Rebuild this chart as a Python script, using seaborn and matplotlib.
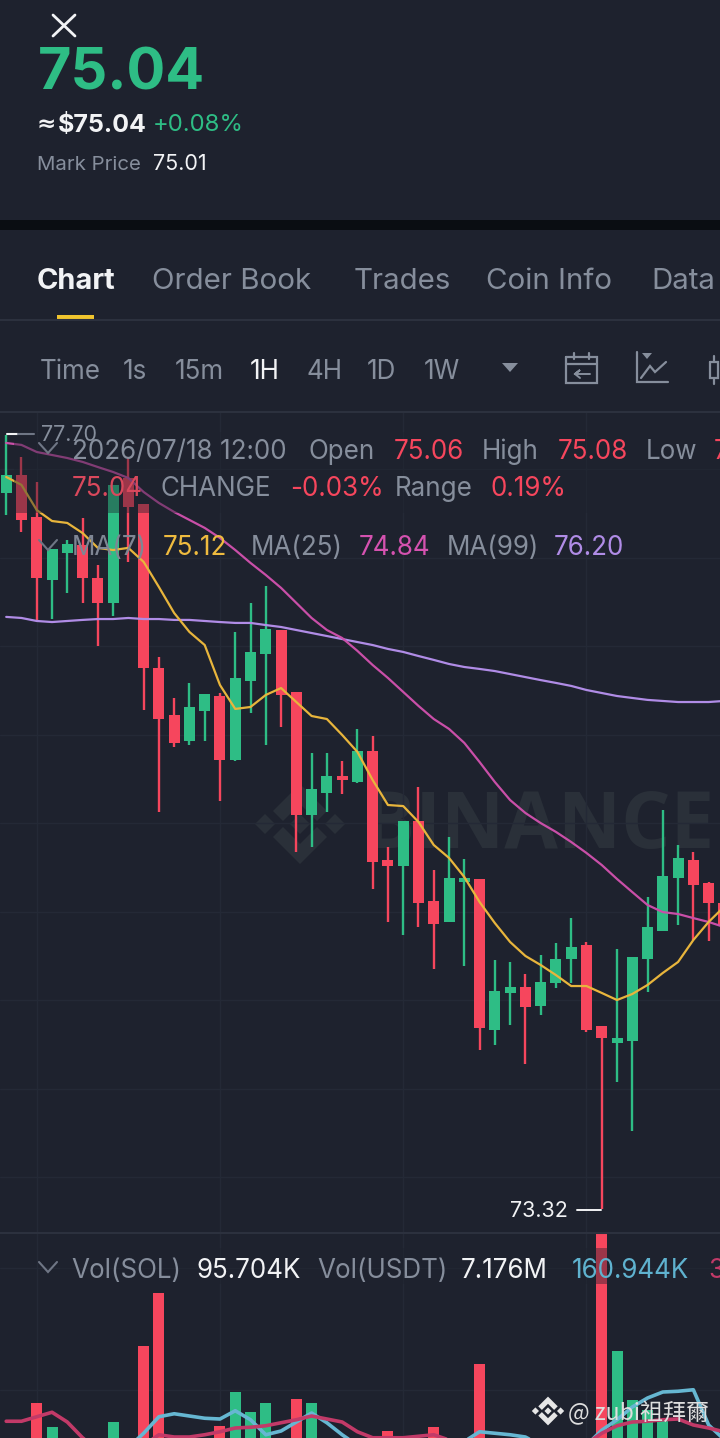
import numpy as np
import pandas as pd
import matplotlib
matplotlib.use("Agg")
import matplotlib.pyplot as plt
from matplotlib.patches import Polygon, Rectangle
import seaborn as sns

# ---------- data ----------
opens = [77.367,77.468,77.231,76.875,77.027,77.073,76.886,76.745,77.451,77.304,76.377,76.112,75.965,76.134,76.219,75.857,
         76.304,76.457,76.592,76.242,75.547,75.671,75.767,75.733,75.908,75.292,75.258,75.513,75.060,74.942,75.168,75.185,
         74.331,74.541,74.574,74.467,74.597,74.733,74.812,74.354,74.258,74.269,74.733,74.891,75.190,75.292,75.162,75.049]
highs = [77.694,77.570,77.429,77.050,77.101,77.225,76.960,77.412,77.564,77.304,76.440,76.208,76.293,76.230,76.236,76.581,
         76.745,76.841,76.592,76.242,75.897,75.897,75.852,76.033,75.993,75.366,75.513,75.705,75.236,75.422,75.298,75.185,
         74.727,74.716,74.648,74.755,74.823,74.964,74.829,74.354,74.789,74.744,75.083,75.575,75.377,75.337,75.168,75.049]
lows = [77.242,77.146,76.649,76.654,76.801,76.745,76.502,76.671,76.977,76.140,75.564,75.931,75.942,75.965,75.626,75.852,
        76.123,75.942,76.044,75.337,75.366,75.564,75.665,75.727,75.128,74.942,74.868,74.914,74.676,74.942,74.693,74.218,
        74.247,74.360,74.139,74.416,74.569,74.597,74.320,73.320,74.037,73.761,74.546,74.891,74.925,74.840,74.834,74.840]
closes = [77.468,77.214,76.886,77.050,77.078,76.886,76.745,77.412,77.287,76.377,76.089,75.954,76.157,76.230,75.857,76.321,
          76.468,76.598,76.225,75.547,75.694,75.767,75.744,75.908,75.281,75.258,75.513,75.049,74.931,75.190,75.190,74.343,
          74.552,74.574,74.461,74.603,74.733,74.800,74.331,74.286,74.286,74.744,74.914,75.202,75.304,75.151,75.049,74.925]
ma7 = [77.457,77.412,77.270,77.208,77.197,77.140,77.056,77.044,77.056,76.977,76.835,76.688,76.581,76.507,76.281,76.146,
       76.157,76.225,76.264,76.185,76.106,76.089,75.999,75.903,75.744,75.603,75.597,75.507,75.377,75.304,75.196,75.055,
       74.936,74.829,74.750,74.699,74.642,74.580,74.580,74.541,74.501,74.535,74.586,74.654,74.716,74.840,74.942,75.027]
ma25 = [77.649,77.638,77.598,77.581,77.564,77.542,77.513,77.485,77.451,77.372,77.310,77.259,77.214,77.169,77.112,77.044,
        76.971,76.903,76.830,76.745,76.660,76.592,76.547,76.474,76.394,76.321,76.242,76.163,76.089,76.033,75.954,75.846,
        75.733,75.631,75.558,75.501,75.451,75.394,75.332,75.264,75.185,75.111,75.038,74.998,74.987,74.964,74.942,74.914]
ma99 = [76.666,76.660,76.643,76.637,76.643,76.649,76.654,76.654,76.660,76.654,76.654,76.649,76.649,76.643,76.637,76.632,
        76.632,76.620,76.609,76.592,76.575,76.558,76.541,76.524,76.507,76.485,76.468,76.445,76.423,76.400,76.383,76.372,
        76.360,76.343,76.326,76.309,76.293,76.276,76.253,76.236,76.219,76.208,76.197,76.191,76.185,76.185,76.185,76.191]
volumes = [130,110,209,177,90,120,100,184,150,285,356,110,100,80,179,224,197,209,140,215,209,110,80,90,
           150,172,120,150,177,100,110,261,120,90,110,90,80,90,150,440,279,213,200,187,120,110,100,95.7]
vol_ma_a = [120,118,122,125,128,130,132,135,150,169,191,195,192,189,188,199,187,167,172,184,196,183,167,153,
            150,148,147,146,147,150,158,171,169,167,164,153,147,147,153,173,187,204,216,224,225,227,180,161]
vol_ma_b = [185,185,191,197,184,163,147,140,147,153,167,164,164,167,171,176,177,179,183,187,192,188,184,171,
            163,163,163,165,167,160,155,152,150,148,147,147,148,150,155,169,179,184,185,187,188,180,176,171]
price_ticks = [73.5,74.0,74.5,75.0,75.5,76.0,76.5,77.0,77.5]
time_ticks = [2,14,26,38]
vol_ticks = [227,390]

BG = "#1e222e"; GREEN = "#2ebd85"; RED = "#f6465d"; GRAY = "#868e9c"; WHITE = "#f2f3f5"
YEL = "#e8b53c"; PINK = "#c94fa8"; LIL = "#b08ce6"; GRID = "#242936"; WM = "#2a3039"
FONT = ["Inter", "DejaVu Sans"]

sns.set_theme(style="dark", rc={"axes.facecolor": "none", "figure.facecolor": BG, "axes.edgecolor": BG})
plt.rcParams["font.family"] = FONT

W, H = 720, 1438
fig = plt.figure(figsize=(7.2, 14.38), dpi=100, facecolor=BG)

def pix_axes(top, bottom, z):
    a = fig.add_axes([0, 1 - bottom / H, 1, (bottom - top) / H], zorder=z)
    a.patch.set_alpha(0)
    for s in a.spines.values():
        s.set_visible(False)
    return a

ax_bg = pix_axes(0, H, 0); ax_bg.set_xlim(0, W); ax_bg.set_ylim(H, 0); ax_bg.axis("off")
ax = pix_axes(412, 1232, 1)
axv = pix_axes(1233, H, 1)
ax_fg = pix_axes(0, H, 3); ax_fg.set_xlim(0, W); ax_fg.set_ylim(H, 0); ax_fg.axis("off")

XLIM = (-0.406, 46.745)

def logo(a, cx, cy, s, color, z=1):
    for dx in (-35, 0, 35):
        a.add_patch(Polygon([(cx + dx * s, cy - 10 * s), (cx + (dx + 10) * s, cy), (cx + dx * s, cy + 10 * s), (cx + (dx - 10) * s, cy)],
                            closed=True, fc=color, ec="none", zorder=z))
    for sgn in (-1, 1):
        pts = [(0, -40), (27, -13), (17, -3), (0, -20), (-17, -3), (-27, -13)]
        a.add_patch(Polygon([(cx + px * s, cy + sgn * py * s) for px, py in pts], closed=True, fc=color, ec="none", zorder=z))

# watermark under the chart
logo(ax_bg, 300, 824, 1.0, WM)
ax_bg.text(363, 848, "BINANCE", fontsize=56, fontweight="bold", color=WM, family=["Open Sans"], va="baseline", ha="left")

# ---------- price panel ----------
idx = np.arange(len(opens))
o, c, h, l = map(np.array, (opens, closes, highs, lows))
cols = [GREEN if cc >= oo else RED for oo, cc in zip(o, c)]
ax.vlines(idx, l, h, colors=cols, linewidth=1.7, zorder=2)
ax.bar(idx, np.abs(c - o), bottom=np.minimum(o, c), width=0.72, color=cols, zorder=2, linewidth=0)
df = pd.DataFrame({"i": idx, "ma7": ma7, "ma25": ma25, "ma99": ma99})
sns.lineplot(data=df, x="i", y="ma99", ax=ax, color=LIL, linewidth=1.6, zorder=3)
sns.lineplot(data=df, x="i", y="ma25", ax=ax, color=PINK, linewidth=1.6, zorder=3)
sns.lineplot(data=df, x="i", y="ma7", ax=ax, color=YEL, linewidth=1.6, zorder=4)
ax.set_xlim(*XLIM); ax.set_ylim(73.19, 77.824)
ax.set_xticks(time_ticks); ax.set_yticks(price_ticks)
ax.set_xticklabels([]); ax.set_yticklabels([]); ax.set_xlabel(""); ax.set_ylabel("")
ax.tick_params(length=0)
ax.grid(True, color=GRID, linewidth=1.0, zorder=0); ax.set_axisbelow(True)

# ---------- volume panel ----------
dv = pd.DataFrame({"i": idx, "vol": volumes, "side": ["up" if x == GREEN else "down" for x in cols],
                   "a": vol_ma_a, "b": vol_ma_b})
sns.barplot(data=dv, x="i", y="vol", hue="side", palette={"up": GREEN, "down": RED}, dodge=False, native_scale=True,
            width=0.72, saturation=1, legend=False, ax=axv, zorder=2, linewidth=0, errorbar=None)
sns.lineplot(data=dv, x="i", y="a", ax=axv, color="#66b7d2", linewidth=2.6, zorder=3)
sns.lineplot(data=dv, x="i", y="b", ax=axv, color="#c23a68", linewidth=2.6, zorder=4)
axv.set_xlim(*XLIM); axv.set_ylim(162.67, 436)
axv.set_xticks(time_ticks); axv.set_yticks(vol_ticks)
axv.set_xticklabels([]); axv.set_yticklabels([]); axv.set_xlabel(""); axv.set_ylabel("")
axv.tick_params(length=0)
axv.grid(True, color=GRID, linewidth=1.0, zorder=0); axv.set_axisbelow(True)

# ---------- overlay UI ----------
def T(x, y, s, px, color=GRAY, weight="normal", family=None, ha="left"):
    ax_fg.text(x, y, s, fontsize=px * 0.72, color=color, fontweight=weight, va="baseline", ha=ha,
               family=family or FONT, zorder=10)

def L(xs, ys, color=GRAY, lw=1.4, z=9):
    ax_fg.plot(xs, ys, color=color, linewidth=lw, solid_capstyle="round", solid_joinstyle="miter", zorder=z)

def chevron(cx, cy, color="#6f7685"):
    L([cx - 9, cx, cx + 9], [cy - 5, cy + 5, cy - 5], color, 1.5)

# translucent legend backgrounds that dim the marks beneath
ax_fg.add_patch(Rectangle((14, 432), 706, 81, fc=BG, ec="none", alpha=0.42, zorder=5))
ax_fg.add_patch(Rectangle((60, 1248), 660, 36, fc=BG, ec="none", alpha=0.42, zorder=5))

# header
ax_fg.add_patch(Rectangle((0, 220), W, 10, fc="#0a0d12", ec="none", zorder=6))
L([53, 75], [15, 36], WHITE, 2.0); L([75, 53], [15, 36], WHITE, 2.0)
T(38, 90, "75.04", 57.5, GREEN, "bold")
T(37, 132, "≈", 23, WHITE, "bold", family=["DejaVu Sans"])
T(58, 132, "$75.04", 25, WHITE, "bold")
T(153, 131, "+0.08%", 24, GREEN)
T(37, 170, "Mark Price", 20.5, GRAY)
T(153, 170, "75.01", 21.5, WHITE)

# tabs
T(37, 289, "Chart", 29, WHITE, "bold")
for x, s in [(152, "Order Book"), (354, "Trades"), (486, "Coin Info"), (651, "Data")]:
    T(x, 289, s, 29.5, GRAY)
ax_fg.add_patch(Rectangle((57, 315), 37, 6, fc="#f0c52e", ec="none", zorder=6))
L([0, W], [320, 320], "#2c313e", 1.5)
L([0, W], [412, 412], "#2c313e", 1.5)
L([0, W], [1233, 1233], "#2c313e", 1.5)

# interval row
for x, s, col in [(40, "Time", GRAY), (123, "1s", GRAY), (175, "15m", GRAY), (250, "1H", WHITE),
                  (307, "4H", GRAY), (367, "1D", GRAY), (424, "1W", GRAY)]:
    T(x, 379, s, 26, col)
ax_fg.add_patch(Polygon([(502, 363), (518, 363), (510, 372)], closed=True, fc=GRAY, ec="none", zorder=9))
# calendar icon
L([566, 597, 597, 566, 566], [357, 357, 383, 383, 357], GRAY, 1.6)
L([566, 597], [364, 364], GRAY, 1.6)
L([574, 574], [353, 359], GRAY, 1.6); L([589, 589], [353, 359], GRAY, 1.6)
L([590, 575, 580, 575, 580], [374, 374, 370, 374, 378], GRAY, 1.4)
# indicator icon
L([637, 637, 668], [352, 382, 382], GRAY, 1.6)
L([641, 650, 655, 666], [378, 366, 372, 362], GRAY, 1.6)
ax_fg.add_patch(Polygon([(642, 353), (652, 353), (647, 359)], closed=True, fc=GRAY, ec="none", zorder=9))
# candle icon
L([710, 718, 718, 710, 710], [362, 362, 378, 378, 362], GRAY, 1.6)
L([714, 714], [356, 362], GRAY, 1.6); L([714, 714], [378, 384], GRAY, 1.6)

# chart legend
L([7, 18], [434, 434], WHITE, 1.5); L([18, 34], [434, 434], "#6f7685", 1.5)
T(41, 441, "77.70", 21.5, GRAY)
chevron(48, 448); chevron(48, 545); chevron(48, 1267)
LEG = 26
for x, y, s, col in [(72, 459, "2026/07/18 12:00", GRAY), (308, 459, "Open", GRAY), (394, 459, "75.06", RED),
                     (482, 459, "High", GRAY), (558, 459, "75.08", RED), (646, 459, "Low", GRAY), (714, 459, "7", RED),
                     (72, 496, "75.04", "#d9485c"), (160, 496, "CHANGE", GRAY), (290, 496, "-0.03%", RED),
                     (395, 496, "Range", GRAY), (490, 496, "0.19%", RED),
                     (72, 555, "MA(7)", "#7f8694"), (163, 555, "75.12", "#efbb3f"), (251, 555, "MA(25)", GRAY),
                     (359, 555, "74.84", "#d552b0"), (447, 555, "MA(99)", GRAY), (554, 555, "76.20", LIL),
                     (71, 1278, "Vol(SOL)", GRAY), (196, 1278, "95.704K", WHITE), (317, 1278, "Vol(USDT)", GRAY),
                     (461, 1278, "7.176M", WHITE), (572, 1278, "160.944K", "#5fb2cf"), (708, 1278, "3", "#c23a68")]:
    T(x, y, s, LEG, col)

# low marker
T(510, 1217, "73.32", 21.5, WHITE)
L([577, 601], [1210, 1210], WHITE, 1.4)

# source credit
logo(ax_fg, 548, 1411, 0.36, "#e6e6e6", z=9)
T(568, 1420, "@ zubi祖拜爾", 23, "#dedede", family=["Noto Sans CJK TC", "DejaVu Sans"])

fig.savefig("out.png", dpi=100, facecolor=BG)
